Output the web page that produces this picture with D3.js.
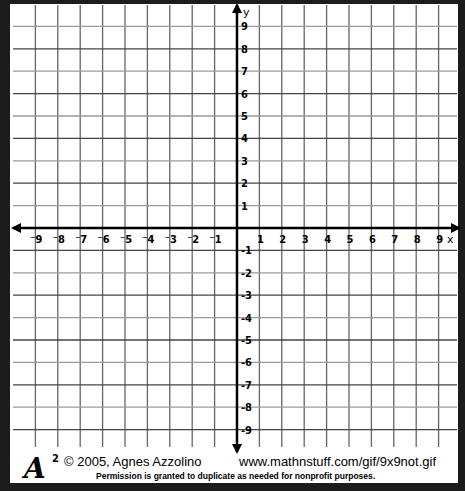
<!DOCTYPE html>
<html><head><meta charset="utf-8">
<script src="https://cdn.jsdelivr.net/npm/d3@7"></script>
<style>body{margin:0;background:#1c1c1c}</style>
</head><body>
<svg id="c" width="465" height="491"></svg>
<script>
// tick values for both axes
var xTicks = [-9,-8,-7,-6,-5,-4,-3,-2,-1,1,2,3,4,5,6,7,8,9];
var yTicks = [-9,-8,-7,-6,-5,-4,-3,-2,-1,1,2,3,4,5,6,7,8,9];
var credit = "\u00a9 2005, Agnes Azzolino";
var url = "www.mathnstuff.com/gif/9x9not.gif";
var permission = "Permission is granted to duplicate as needed for  nonprofit purposes.";

var svg = d3.select("#c");
svg.append("rect").attr("x", 10).attr("y", 4).attr("width", 448).attr("height", 479).attr("fill", "#fff");

var x = d3.scaleLinear().domain([-10, 10]).range([13, 461]);
var y = d3.scaleLinear().domain([-10, 10]).range([452, 4]);

// grid
svg.selectAll(".v").data(xTicks).enter().append("line")
    .attr("x1", d => x(d)).attr("x2", d => x(d)).attr("y1", 5).attr("y2", 447)
    .attr("stroke", "#666").attr("stroke-width", 1.3);
svg.selectAll(".h").data(yTicks).enter().append("line")
    .attr("y1", d => y(d)).attr("y2", d => y(d)).attr("x1", 13).attr("x2", 457)
    .attr("stroke", (d, i) => i % 2 ? "#999" : "#444").attr("stroke-width", 1.3);

// axes with arrows
var defs = svg.append("defs");
defs.append("marker").attr("id", "ar").attr("viewBox", "0 0 10 10").attr("refX", 8).attr("refY", 5)
    .attr("markerWidth", 4).attr("markerHeight", 4).attr("orient", "auto-start-reverse")
    .append("path").attr("d", "M0,0L10,5L0,10z").attr("fill", "#000");
svg.append("line").attr("x1", 13).attr("x2", 459).attr("y1", y(0)).attr("y2", y(0))
    .attr("stroke", "#000").attr("stroke-width", 2.5)
    .attr("marker-start", "url(#ar)").attr("marker-end", "url(#ar)");
svg.append("line").attr("x1", x(0)).attr("x2", x(0)).attr("y1", 452).attr("y2", 5)
    .attr("stroke", "#000").attr("stroke-width", 2.5)
    .attr("marker-start", "url(#ar)").attr("marker-end", "url(#ar)");

var lbl = "bold 11px 'DejaVu Sans Condensed', sans-serif";
svg.selectAll(".xl").data(xTicks).enter().append("text")
    .attr("x", d => x(d) + 1).attr("y", y(0) + 15).attr("text-anchor", "middle")
    .style("font", lbl).text(d => d < 0 ? "\u207b" + (-d) : d);
svg.selectAll(".yl").data(yTicks).enter().append("text")
    .attr("x", x(0) + 4).attr("y", d => y(d) + 4)
    .style("font", lbl).text(d => d < 0 ? "-" + (-d) : d);
svg.append("text").attr("x", 447).attr("y", y(0) + 15).style("font", "11px 'DejaVu Sans'").text("x");
svg.append("text").attr("x", 243).attr("y", 16).style("font", "11px 'DejaVu Sans'").text("y");

// footer
svg.append("text").attr("x", 24).attr("y", 478).style("font", "italic bold 28px 'DejaVu Serif', serif").text("A");
svg.append("text").attr("x", 52).attr("y", 462).style("font", "bold 10px 'DejaVu Sans'").text("2");
svg.append("text").attr("x", 64).attr("y", 466).style("font", "13px 'Liberation Sans', sans-serif").text(credit);
svg.append("text").attr("x", 239).attr("y", 466).style("font", "13px 'Liberation Sans', sans-serif").text(url);
svg.append("text").attr("x", 96).attr("y", 479).style("font", "bold 8.5px 'Liberation Sans', sans-serif").text(permission);
</script>
</body></html>
